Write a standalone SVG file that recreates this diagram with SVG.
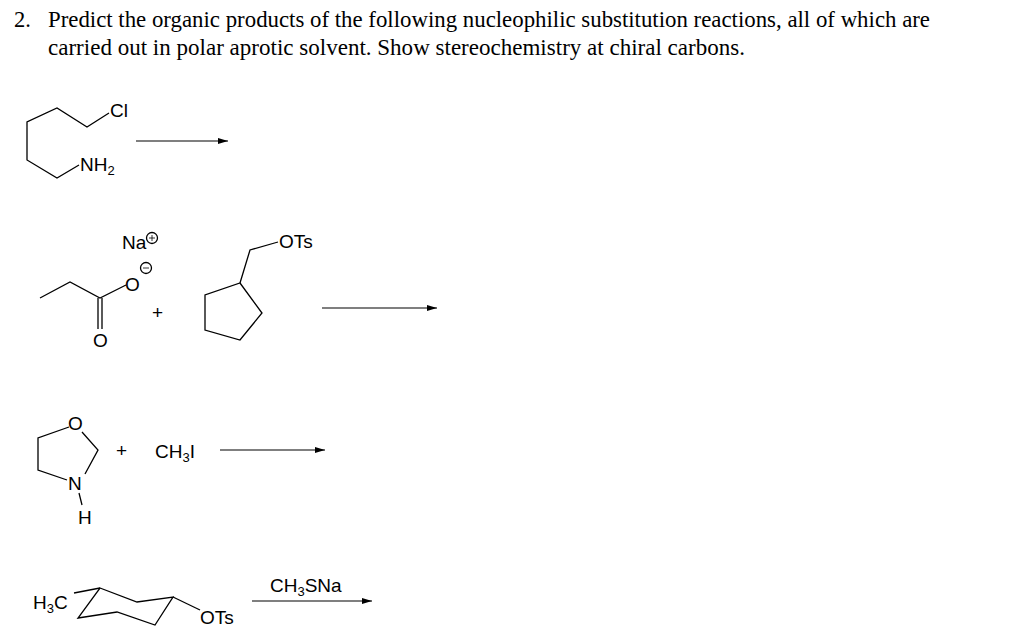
<svg xmlns="http://www.w3.org/2000/svg" width="1024" height="639" viewBox="0 0 1024 639">
<defs><marker id="ah" markerWidth="10" markerHeight="6" refX="10" refY="3" orient="auto" markerUnits="userSpaceOnUse"><path d="M0,0 L10,3 L0,6 z" fill="#000"/></marker></defs>
<style>
.t{font-family:"Liberation Serif",serif;font-size:22.5px;fill:#000}
.a{font-family:"Liberation Sans",Arial,sans-serif;font-size:19px;fill:#000}
.s{font-size:13px}
.b{stroke:#000;stroke-width:1.3;fill:none}
.ar{stroke:#000;stroke-width:1.2;fill:none;marker-end:url(#ah)}
</style>
<rect width="1024" height="639" fill="#fff"/>
<text class="t" x="14" y="27">2.</text>
<text class="t" x="48" y="27" textLength="882" lengthAdjust="spacingAndGlyphs">Predict the organic products of the following nucleophilic substitution reactions, all of which are</text>
<text class="t" x="48" y="55" textLength="697" lengthAdjust="spacingAndGlyphs">carried out in polar aprotic solvent.  Show stereochemistry at chiral carbons.</text>
<g id="m1">
<polyline class="b" points="109,113 87,127 57,108 27,122 27,160 57,178 79,165"/>
<text class="a" x="110" y="117">Cl</text>
<text class="a" x="80" y="171">NH<tspan class="s" dy="4">2</tspan></text>
</g>
<g id="m2">
<polyline class="b" points="40,298 70,282 100,298 126,285"/>
<line class="b" x1="98" y1="298" x2="98" y2="329"/><line class="b" x1="102" y1="298" x2="102" y2="329"/>
<text class="a" x="93" y="347">O</text>
<text class="a" x="125" y="291">O</text>
<circle cx="146" cy="268" r="5.5" class="b" stroke-width="0.8"/><line x1="143" y1="268" x2="149" y2="268" stroke="#000" stroke-width="0.8"/>
<text class="a" x="122" y="249">Na</text>
<circle cx="152" cy="238" r="5.5" class="b" stroke-width="0.8"/><path d="M149,238h6M152,235v6" stroke="#000" stroke-width="0.8"/>
<text class="a" x="152" y="319" font-size="16" font-weight="300">+</text>
</g>
<g id="m3">
<polygon class="b" points="240,283 262,313 240,340 205,330 205,295"/>
<polyline class="b" points="240,283 250,250 278,242"/>
<text class="a" x="279" y="248">OTs</text>
</g>
<g id="m4">
<polyline class="b" points="69,427 38,438 38,470 67,480"/>
<polyline class="b" points="82,432 98,450 85,474"/>
<text class="a" x="68" y="430">O</text>
<text class="a" x="68" y="490">N</text>
<line class="b" x1="79" y1="493" x2="82" y2="505"/>
<text class="a" x="78" y="524">H</text>
<text class="a" x="116" y="457" font-size="16">+</text>
<text class="a" x="155" y="458">CH<tspan class="s" dy="4">3</tspan><tspan dy="-4">I</tspan></text>
</g>
<g id="m5">
<text class="a" x="33" y="609">H<tspan class="s" dy="4">3</tspan><tspan dy="-4">C</tspan></text>
<line class="b" x1="74" y1="593" x2="100" y2="588"/>
<polygon class="b" points="100,588 137,602 173,597 155,625 117,612 78,618"/>
<line class="b" x1="173" y1="597" x2="200" y2="610"/>
<text class="a" x="200" y="624">OTs</text>
<text class="a" x="270" y="592" font-size="16">CH<tspan class="s" dy="4" font-size="12">3</tspan><tspan dy="-4">SNa</tspan></text>
</g>
<g id="connectors">
<line class="ar" x1="136" y1="141" x2="228" y2="141"/>
<line class="ar" x1="322" y1="308" x2="437" y2="308"/>
<line class="ar" x1="220" y1="450" x2="325" y2="450"/>
<line class="ar" x1="252" y1="601" x2="372" y2="601"/>
</g>
</svg>
